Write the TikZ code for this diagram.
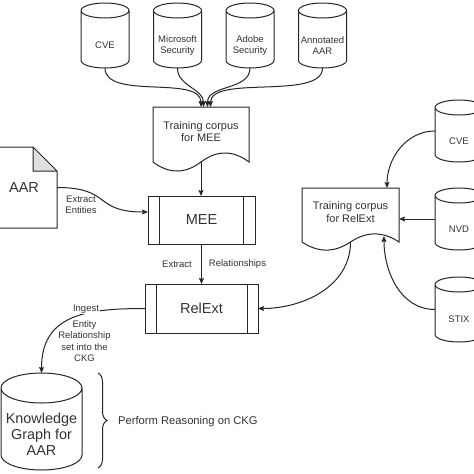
\documentclass[tikz,border=0pt]{standalone}
\usepackage{fontspec}
\setmainfont{Liberation Sans}
\usetikzlibrary{calc,arrows.meta,decorations.pathreplacing}
\definecolor{ln}{HTML}{262626}
\definecolor{tx}{HTML}{333333}
\newcommand\fs[2]{\fontsize{#1}{#2}\selectfont}
\tikzset{
  shapeline/.style={draw=ln, line width=1pt},
  conn/.style={draw=ln, line width=1pt, -{Stealth[length=6pt,width=5pt,inset=1pt]}},
  holder/.style={draw=none, inner sep=0pt, outer sep=0pt},
  box/.style 2 args={holder, minimum width=#1, minimum height=#2},
  intext/.style={text=tx, align=center, inner sep=0pt},
  smallt/.style={intext, font=\fs{9.5}{11.3}},
  cylt/.style={smallt, yshift=-10pt},
  doct/.style={intext, font=\fs{11}{12.5}, yshift=3pt},
  bigt/.style={text=tx, font=\fs{14.5}{16}},
}
% cylinder outline: node, cap half-height
\newcommand\cylout[2]{%
  \draw[shapeline] let \p1=(#1.north west), \p2=(#1.south east), \n1={(\x2-\x1)/2} in
    (\x1,{\y1-#2}) -- (\x1,{\y2+#2}) arc[start angle=180,end angle=360,x radius=\n1,y radius=#2] -- (\x2,{\y1-#2})
    (\x1,{\y1-#2}) arc[start angle=180,end angle=-180,x radius=\n1,y radius=#2];}
% process outline: node, inset
\newcommand\procout[2]{%
  \draw[shapeline] (#1.north west) rectangle (#1.south east)
    ($(#1.north west)+(#2,0)$) -- ($(#1.south west)+(#2,0)$)
    ($(#1.north east)+(-#2,0)$) -- ($(#1.south east)+(-#2,0)$);}
% document outline: node (upper part), wave size
\newcommand\docout[2]{%
  \draw[shapeline] let \p1=(#1.north west), \p2=(#1.south east), \n1={\x2-\x1} in
    (\x2,\y2) -- (\x2,\y1) -- (\x1,\y1) -- (\x1,\y2)
    .. controls ({\x1+\n1/6},{\y2-0.6*#2}) and ({\x1+\n1/3},{\y2-0.6*#2}) .. ({\x1+\n1/2},\y2)
    .. controls ({\x1+2*\n1/3},{\y2+0.6*#2}) and ({\x1+5*\n1/6},{\y2+0.6*#2}) .. (\x2,\y2) -- cycle;}
% note outline: node, fold size
\newcommand\noteout[2]{%
  \fill[black!12] ($(#1.north east)+(-#2,0)$) -- ($(#1.north east)+(-#2,#2)$) -- ($(#1.north east)+(0,#2)$) -- cycle;
  \draw[shapeline] (#1.north west) -- ($(#1.north east)+(-#2,0)$) -- ($(#1.north east)+(0,#2)$) -- (#1.south east) -- (#1.south west) -- cycle
    ($(#1.north east)+(-#2,0)$) -- ($(#1.north east)+(-#2,#2)$) -- ($(#1.north east)+(0,#2)$);}
\begin{document}
\begin{tikzpicture}[x=1pt,y=-1pt]
\useasboundingbox (0,0) rectangle (474,474);
\fill[white] (0,0) rectangle (474,474);

% top data sources
\node[box={48pt}{65pt}, label={[cylt]center:CVE}] (cvea) at (105,35.5) {};
\node[box={48pt}{65pt}, label={[cylt]center:Microsoft\\Security}] (msft) at (177.5,35.5) {};
\node[box={48pt}{65pt}, label={[cylt]center:Adobe\\Security}] (adobe) at (250,35.5) {};
\node[box={48pt}{65pt}, label={[cylt]center:Annotated\\AAR}] (annot) at (322.5,35.5) {};
\cylout{cvea}{7.5pt}\cylout{msft}{7.5pt}\cylout{adobe}{7.5pt}\cylout{annot}{7.5pt}

% right data sources
\node[box={48pt}{62pt}, label={[cylt]center:CVE}] (cveb) at (459,131) {};
\node[box={48pt}{62pt}, label={[cylt]center:NVD}] (nvd) at (459,219) {};
\node[box={48pt}{65pt}, label={[cylt]center:STIX}] (stix) at (459,309.5) {};
\cylout{cveb}{7.5pt}\cylout{nvd}{7.5pt}\cylout{stix}{7.5pt}

% documents
\node[box={96pt}{55pt}, label={[doct]center:Training corpus\\for MEE}] (tcm) at (201,134.5) {};
\node[box={97pt}{54pt}, label={[doct]center:Training corpus\\for RelExt}] (tcr) at (350.5,215) {};
\docout{tcm}{20pt}\docout{tcr}{18pt}

% AAR note
\node[box={66pt}{81pt}, bigt] (aar) at (24,187.5) {AAR};
\noteout{aar}{24}

% processes
\node[box={107pt}{48pt}, bigt] (mee) at (201.5,220) {MEE};
\node[box={113pt}{49pt}, bigt] (relext) at (201.5,308.5) {RelExt};
\procout{mee}{11.5}\procout{relext}{11}

% knowledge graph
\node[box={81pt}{97pt}, label={[intext,font=\fs{14.4}{16},yshift=-12.5pt]center:Knowledge\\Graph for\\AAR}] (kg) at (41.5,421.5) {};
\cylout{kg}{15pt}

% connectors
\draw[conn] (cvea.south) to[out=-90,in=90,looseness=0.8] (tcm.north);
\draw[conn] (msft.south) to[out=-90,in=90] ($(tcm.north)+(2.5,0)$);
\draw[conn] (adobe.south) to[out=-90,in=90] ($(tcm.north)+(6.5,0)$);
\draw[conn] (annot.south) to[out=-90,in=90,looseness=0.7] ($(tcm.north)+(9.5,0)$);
\draw[conn] (tcm.south) -- (tcm.south |- mee.north);
\draw[conn] (aar.east) to[out=0,in=180,looseness=1.5] ($(mee.west)+(0,-8)$);
\draw[conn] (mee.south) -- (relext.north);
\draw[conn] (tcr.south) to[out=-90,in=0] (relext.east);
\draw[conn] (cveb.west) to[out=180,in=90] ($(tcr.north)+(36.5,0)$);
\draw[conn] (nvd.west) -- (nvd.west -| tcr.east);
\draw[conn] (stix.west) to[out=180,in=-90] ($(tcr.south east)!0.155!(tcr.south west)+(0,-6)$);
\draw[conn] (relext.west) .. controls ($(relext.west)+(-60,0)$) and ($(kg.north)+(0,-58)$) .. (kg.north);

% labels
\node[smallt] (lee) at (81,204.5) {Extract\\Entities};
\node[smallt] (lex) at (177,264) {Extract};
\node[smallt] (lrel) at (237.5,264) {Relationships};
\node[smallt, fill=white, inner sep=1pt] (ling) at (86,309) {Ingest};
\node[smallt] (lrest) at (84.5,341) {Entity\\Relationship\\set into the\\CKG};
\node[intext, font=\fs{11.2}{13}, anchor=west] (lperf) at (118,422) {Perform Reasoning on CKG};
\draw[ln, line width=1pt, decorate, decoration={brace, amplitude=9pt}] (98,373) -- (98,468);
\end{tikzpicture}
\end{document}
